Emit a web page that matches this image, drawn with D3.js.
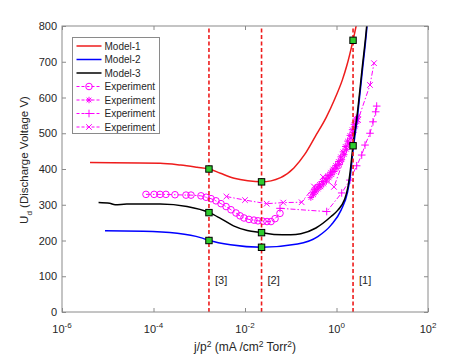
<!DOCTYPE html>
<html><head><meta charset="utf-8">
<script src="https://cdn.jsdelivr.net/npm/d3@7"></script>
<style>body{margin:0;background:#fff} text{font-family:"Liberation Sans",Arial,sans-serif;fill:#262626}</style>
</head><body><svg id="c" width="474" height="355"></svg>
<script>
// ---- data ----
const xTicks = [1e-6, 1e-4, 1e-2, 1, 1e2];
const xTickExps = ["-6", "-4", "-2", "0", "2"];
const yTicks = [0, 100, 200, 300, 400, 500, 600, 700, 800];

const model1X = [4.1e-6, 1.4e-4, 3.9e-4, 8.9e-4, 1.66e-3, 2.9e-3, 5.8e-3, 1.15e-2, 2.29e-2, 6.0e-2, 0.117, 0.2, 0.34, 0.6, 0.93, 1.35, 1.67, 2.30, 2.95];
const model1Y = [418, 416, 411, 405, 400, 388, 374, 367, 364, 376, 403, 440, 490, 545, 598, 650, 688, 760, 825];

const model2X = [8.7e-6, 6.0e-5, 3.3e-4, 1.07e-3, 1.66e-3, 4.8e-3, 2.29e-2, 0.141, 0.39, 0.76, 1.26, 1.74, 2.0, 2.29, 2.88, 3.63, 4.57, 5.0];
const model2Y = [227, 226, 220, 208, 200, 188, 181, 190, 211, 243, 285, 335, 380, 450, 548, 668, 790, 850];

const model3X = [6.3e-6, 1.1e-5, 1.45e-5, 2.6e-5, 1.4e-4, 5.4e-4, 1.66e-3, 2.9e-3, 5.6e-3, 1.12e-2, 2.29e-2, 4.3e-2, 0.1, 0.166, 0.355, 0.76, 1.07, 1.48, 1.78, 2.0, 2.29, 2.88, 3.63, 4.57, 5.0];
const model3Y = [306, 304, 300, 302, 302, 295, 278, 262, 241, 228, 222, 217, 216, 219, 235, 267, 285, 313, 350, 395, 465, 560, 680, 800, 860];

const expCircleX = [6.85e-5, 1.03e-4, 1.39e-4, 1.87e-4, 2.95e-4, 5.13e-4, 6.6e-4, 1.09e-3, 1.41e-3, 1.81e-3, 2.32e-3, 2.99e-3, 3.85e-3, 4.94e-3, 6.35e-3, 7.78e-3, 9.5e-3, 1.22e-2, 1.57e-2, 1.92e-2, 2.47e-2, 3.03e-2, 3.70e-2, 4.53e-2, 5.82e-2];
const expCircleY = [329, 329, 329, 329, 328, 327, 327, 325, 321, 317, 311, 303, 295, 286, 277, 269, 263, 259, 257, 255, 254, 253, 253, 261, 276];

const expStarX = [0.275, 0.316, 0.295, 0.355, 0.331, 0.398, 0.380, 0.457, 0.427, 0.525, 0.490, 0.603, 0.562, 0.692, 0.646, 0.794, 0.741, 0.891, 0.832, 1.023, 0.955, 1.175, 1.096, 1.318, 1.230, 1.479, 1.380, 1.660, 1.549, 1.862, 1.738, 2.089, 1.950, 2.344, 2.188, 2.570, 2.399, 2.818, 2.630, 2.951];
const expStarY = [320, 328, 333, 336, 342, 344, 350, 350, 357, 358, 365, 366, 373, 375, 382, 384, 391, 393, 400, 402, 410, 413, 421, 426, 434, 440, 448, 455, 463, 470, 478, 486, 494, 502, 510, 518, 525, 532, 540, 546];

const expPlusX = [5.82e-2, 0.611, 1.30, 1.97, 2.76, 3.56, 4.20, 5.40, 6.28, 7.19, 7.56];
const expPlusY = [290, 281, 333, 369, 409, 439, 467, 500, 532, 560, 576];

const expCrossX = [3.92e-3, 1.0e-2, 2.98e-2, 6.87e-2, 0.173, 0.322, 0.507, 0.881, 2.95, 5.40, 6.61];
const expCrossY = [323, 313, 303, 306, 307, 351, 378, 350, 537, 635, 696];

const refLineX = [1.63e-3, 2.30e-2, 2.30];
const refLabels = ["[3]", "[2]", "[1]"];
const refLabelY = 90;
const markX = [1.63e-3, 1.63e-3, 1.63e-3, 2.30e-2, 2.30e-2, 2.30e-2, 2.30, 2.30];
const markY = [400, 278, 200, 364, 222, 181, 760, 465];

const legendNames = ["Model-1", "Model-2", "Model-3", "Experiment", "Experiment", "Experiment", "Experiment"];

// ---- chart ----
const svg = d3.select("#c");
const L = 62, R = 428, T = 26, B = 312;
const x = d3.scaleLog().domain([1e-6, 1e2]).range([L, R]);
const y = d3.scaleLinear().domain([0, 800]).range([B, T]);
const MAG = "#ff00ff";

svg.append("defs").append("clipPath").attr("id", "clip")
  .append("rect").attr("x", L).attr("y", T).attr("width", R - L).attr("height", B - T);

const plot = svg.append("g").attr("clip-path", "url(#clip)");
const zip = (xs, ys) => xs.map((v, i) => [v, ys[i]]);
const line = d3.line().x(d => x(d[0])).y(d => y(d[1]));
const smooth = d3.line().x(d => x(d[0])).y(d => y(d[1])).curve(d3.curveMonotoneX);

function marker(g, type, cx, cy) {
  const s = g.append("g").attr("stroke", MAG).attr("stroke-width", 1).attr("fill", "none");
  if (type === "o") s.append("circle").attr("cx", cx).attr("cy", cy).attr("r", 3.3);
  if (type === "+" || type === "*") {
    const r = type === "+" ? 3.8 : 3.2;
    s.append("line").attr("x1", cx - r).attr("x2", cx + r).attr("y1", cy).attr("y2", cy);
    s.append("line").attr("x1", cx).attr("x2", cx).attr("y1", cy - r).attr("y2", cy + r);
  }
  if (type === "x" || type === "*") {
    const r = type === "x" ? 2.8 : 2.3;
    s.append("line").attr("x1", cx - r).attr("x2", cx + r).attr("y1", cy - r).attr("y2", cy + r);
    s.append("line").attr("x1", cx - r).attr("x2", cx + r).attr("y1", cy + r).attr("y2", cy - r);
  }
}

const DASHDOT = "5,2,1.5,2";
const exps = [[expCircleX, expCircleY, "o"], [expStarX, expStarY, "*"], [expPlusX, expPlusY, "+"], [expCrossX, expCrossY, "x"]];
exps.forEach(([xs, ys, t]) => {
  const d = zip(xs, ys);
  plot.append("path").attr("d", line(d)).attr("fill", "none").attr("stroke", MAG)
    .attr("stroke-width", 1).attr("stroke-dasharray", DASHDOT);
  d.forEach(p => marker(plot, t, x(p[0]), y(p[1])));
});

const models = [[model2X, model2Y, "#0000ff"], [model3X, model3Y, "#000000"], [model1X, model1Y, "#ee1c1c"]];
models.forEach(([xs, ys, c]) => {
  plot.append("path").attr("d", smooth(zip(xs, ys))).attr("fill", "none")
    .attr("stroke", c).attr("stroke-width", 1.5);
});

refLineX.forEach((v, i) => {
  plot.append("line").attr("x1", x(v)).attr("x2", x(v)).attr("y1", B).attr("y2", T)
    .attr("stroke", "#ee1c1c").attr("stroke-width", 1.6).attr("stroke-dasharray", "4,2.5");
  svg.append("text").attr("x", x(v) + 6).attr("y", y(refLabelY) + 4).attr("font-size", 11).text(refLabels[i]);
});

markX.forEach((v, i) => {
  plot.append("rect").attr("x", x(v) - 3.2).attr("y", y(markY[i]) - 3.2).attr("width", 6.4).attr("height", 6.4)
    .attr("fill", "#2ecc2e").attr("stroke", "#000").attr("stroke-width", 1);
});

// axes box + ticks
const ax = svg.append("g");
ax.append("rect").attr("x", L).attr("y", T).attr("width", R - L).attr("height", B - T)
  .attr("fill", "none").attr("stroke", "#8a8a8a").attr("stroke-width", 1);
const xAxisB = d3.axisBottom(x).tickValues(xTicks).tickSize(-4).tickFormat("");
const xAxisT = d3.axisTop(x).tickValues(xTicks).tickSize(-4).tickFormat("");
const yAxisL = d3.axisLeft(y).tickValues(yTicks).tickSize(-4).tickFormat("");
const yAxisR = d3.axisRight(y).tickValues(yTicks).tickSize(-4).tickFormat("");
[[xAxisB, `translate(0,${B})`], [xAxisT, `translate(0,${T})`], [yAxisL, `translate(${L},0)`], [yAxisR, `translate(${R},0)`]]
  .forEach(([a, tr]) => {
    const g = ax.append("g").attr("transform", tr).call(a);
    g.select(".domain").remove();
    g.selectAll("line").attr("stroke", "#8a8a8a");
  });

yTicks.forEach(v => {
  svg.append("text").attr("x", L - 5).attr("y", y(v) + 4).attr("text-anchor", "end")
    .attr("font-size", 11).text(v);
});
xTicks.forEach((v, i) => {
  const t = svg.append("text").attr("x", x(v)).attr("y", 333).attr("text-anchor", "middle").attr("font-size", 11);
  t.append("tspan").text("10");
  t.append("tspan").attr("dy", -5).attr("font-size", 8).text(xTickExps[i]);
});

// axis labels
const xl = svg.append("text").attr("x", (L + R) / 2).attr("y", 351).attr("text-anchor", "middle").attr("font-size", 12);
xl.append("tspan").text("j/p");
xl.append("tspan").attr("dy", -4.5).attr("font-size", 8.5).text("2");
xl.append("tspan").attr("dy", 4.5).text(" (mA /cm");
xl.append("tspan").attr("dy", -4.5).attr("font-size", 8.5).text("2");
xl.append("tspan").attr("dy", 4.5).text(" Torr");
xl.append("tspan").attr("dy", -4.5).attr("font-size", 8.5).text("2");
xl.append("tspan").attr("dy", 4.5).text(")");

const yl = svg.append("text").attr("transform", "translate(28,160) rotate(-90)").attr("text-anchor", "middle").attr("font-size", 11.5);
yl.append("tspan").text("U");
yl.append("tspan").attr("dy", 4).attr("font-size", 8).text("d");
yl.append("tspan").attr("dy", -4).text(" (Discharge Voltage V)");

// legend
const lg = svg.append("g");
lg.append("rect").attr("x", 72.5).attr("y", 37.5).attr("width", 87).attr("height", 96)
  .attr("fill", "#fff").attr("stroke", "#8a8a8a").attr("stroke-width", 1);
const legColors = ["#ee1c1c", "#0000ff", "#000000", MAG, MAG, MAG, MAG];
const legMarks = [null, null, null, "o", "*", "+", "x"];
legendNames.forEach((n, i) => {
  const yy = 46 + i * 13.5;
  const ln = lg.append("line").attr("x1", 76.5).attr("x2", 101.5).attr("y1", yy).attr("y2", yy)
    .attr("stroke", legColors[i]).attr("stroke-width", legMarks[i] ? 1 : 1.5);
  if (legMarks[i]) { ln.attr("stroke-dasharray", "3,2"); marker(lg, legMarks[i], 89, yy); }
  lg.append("text").attr("x", 104.5).attr("y", yy + 3.6).attr("font-size", 10).text(n);
});
</script></body></html>
